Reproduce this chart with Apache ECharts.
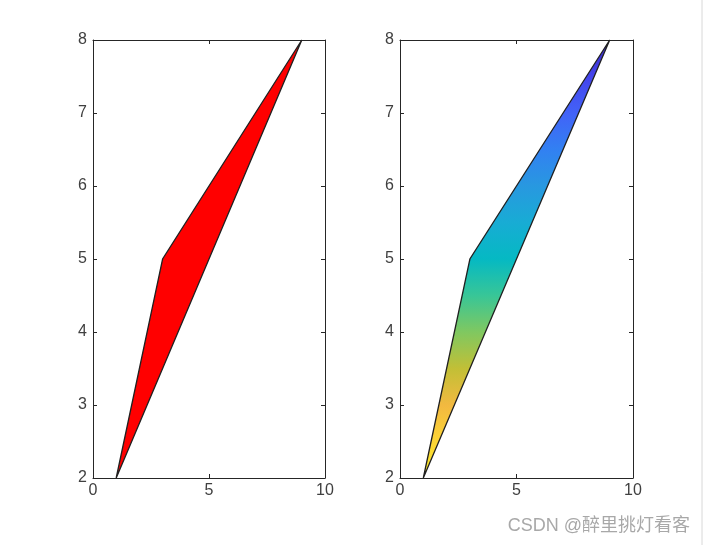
<!DOCTYPE html>
<html>
<head>
<meta charset="utf-8">
<script src="https://cdn.jsdelivr.net/npm/echarts@6/dist/echarts.min.js"></script>
<style>html,body{margin:0;padding:0;background:#fff;}#c{width:705px;height:545px;}</style>
</head>
<body>
<div id="c"></div>
<script>
// polygon vertices
const polyX = [1, 3, 9];
const polyY = [2, 5, 8];
const xTicks = [0, 5, 10];
const yTicks = [2, 3, 4, 5, 6, 7, 8];
// colour band along y (top y=8 -> bottom y=2)
const gradY = [8, 7.5, 7, 6.5, 6, 5.5, 5, 4.5, 4, 3.5, 3, 2.5, 2];
const gradC = ['#3a28c4', '#4444ec', '#4262f8', '#3280f2', '#2898e0', '#18acd4', '#05b9c3', '#38c697', '#80c860', '#c2bf36', '#f2b940', '#fcd535', '#f9ec24'];

const chart = echarts.init(document.getElementById('c'));
const axisColor = '#262626';
const labelColor = '#404040';
const font = 'Liberation Sans, Arial, sans-serif';

function xAx(gi, pos, show) {
  return {
    type: 'value', gridIndex: gi, position: pos, min: 0, max: 10, interval: 5,
    axisLine: {show: true, onZero: false, lineStyle: {color: axisColor, width: 1}},
    axisTick: {show: true, inside: true, length: 4, lineStyle: {color: axisColor}},
    axisLabel: {show: show, color: labelColor, fontSize: 16, fontFamily: font, margin: 5},
    splitLine: {show: false}
  };
}
function yAx(gi, pos, show) {
  return {
    type: 'value', gridIndex: gi, position: pos, min: 2, max: 8, interval: 1,
    axisLine: {show: true, onZero: false, lineStyle: {color: axisColor, width: 1}},
    axisTick: {show: true, inside: true, length: 4, lineStyle: {color: axisColor}},
    axisLabel: {show: show, color: labelColor, fontSize: 16, fontFamily: font, margin: 6},
    splitLine: {show: false}
  };
}

const gradStops = gradY.map((y, i) => ({offset: (8 - y) / 6, color: gradC[i]}));
const pts = polyX.map((x, i) => [x, polyY[i]]);

function makeRender(fill) {
  return function (params, api) {
    if (params.dataIndex !== 0) return null;
    const points = pts.map(p => api.coord(p));
    return {
      type: 'polygon',
      shape: {points: points},
      style: {fill: fill, stroke: '#202020', lineWidth: 1.3, lineJoin: 'miter'}
    };
  };
}

chart.setOption({
  animation: false,
  backgroundColor: '#fff',
  grid: [
    {left: 93, top: 40, width: 232, height: 438},
    {left: 400, top: 40, width: 233, height: 438}
  ],
  xAxis: [xAx(0, 'bottom', true), xAx(0, 'top', false), xAx(1, 'bottom', true), xAx(1, 'top', false)],
  yAxis: [yAx(0, 'left', true), yAx(0, 'right', false), yAx(1, 'left', true), yAx(1, 'right', false)],
  series: [
    {type: 'custom', xAxisIndex: 0, yAxisIndex: 0, data: pts, renderItem: makeRender('#ff0000'), clip: false},
    {type: 'custom', xAxisIndex: 2, yAxisIndex: 2, data: pts,
      renderItem: makeRender(new echarts.graphic.LinearGradient(0, 0, 0, 1, gradStops)), clip: false}
  ],
  graphic: [
    {type: 'text', right: 15, bottom: 10, style: {text: 'CSDN @醉里挑灯看客', fill: '#a8a8a8', fontSize: 18, fontFamily: 'Liberation Sans, Noto Sans CJK SC, sans-serif'}},
    {type: 'line', shape: {x1: 702, y1: 0, x2: 702, y2: 545}, style: {stroke: '#d8d8d8', lineWidth: 1}}
  ]
});
</script>
</body>
</html>
